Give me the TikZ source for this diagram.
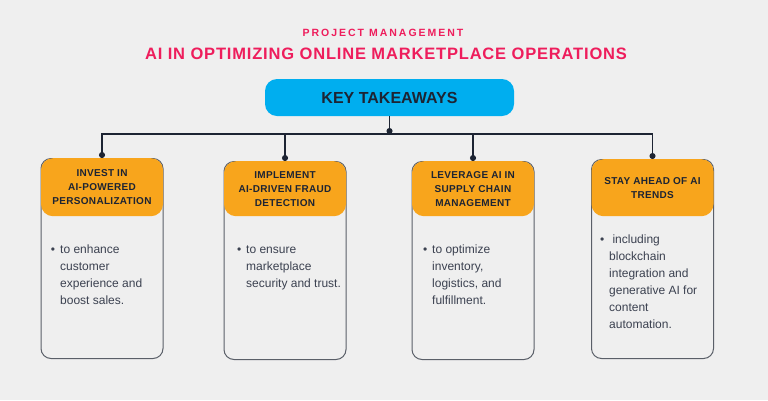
\documentclass[tikz,border=0pt]{standalone}
\usepackage{fontspec}
\setmainfont{Liberation Sans}
\newfontfamily\tagfont[LetterSpace=19]{Liberation Sans}
\newfontfamily\titlefont[LetterSpace=5]{Liberation Sans}
\newfontfamily\headfont[LetterSpace=3]{Liberation Sans}
\usetikzlibrary{arrows.meta,positioning}

\definecolor{bgc}{HTML}{EFEFEF}
\definecolor{pinkred}{HTML}{EE1D5C}
\definecolor{skyblue}{HTML}{00AEEF}
\definecolor{amber}{HTML}{F8A51C}
\definecolor{ink}{HTML}{1D2433}
\definecolor{bodyink}{HTML}{3B4150}
\definecolor{rim}{HTML}{5A5F68}

\newcommand{\firstline}{\rule{0pt}{10pt}}

\begin{document}
\begin{tikzpicture}[x=1pt, y=-1pt,
  card/.style={draw=rim, line width=1pt, fill=bgc, rounded corners=10pt,
               minimum width=122pt, anchor=north},
  hd/.style={fill=amber, rounded corners=12pt, align=center, text=ink,
             minimum width=122pt, inner sep=2pt, anchor=north,
             font=\headfont\fontsize{10}{14}\selectfont\bfseries},
  txt/.style={align=left, inner sep=0pt, anchor=north west, text=bodyink,
              font=\fontsize{12}{17}\selectfont},
  ln/.style={draw=ink, line width=1.5pt, -{Circle[length=6pt]}}]
\fill[bgc] (0,0) rectangle (768,400);
\useasboundingbox (0,0) rectangle (768,400);

% titles
\node[text=pinkred, font=\tagfont\fontsize{10.5}{12}\selectfont\bfseries] (pm) at (383,33) {PROJECT MANAGEMENT};
\node[text=pinkred, font=\titlefont\fontsize{16.5}{18}\selectfont\bfseries] (ttl) at (386,54) {AI IN OPTIMIZING ONLINE MARKETPLACE OPERATIONS};
\node[fill=skyblue, rounded corners=12pt, minimum width=249pt, minimum height=37pt,
      text=ink, font=\fontsize{16}{18}\selectfont\bfseries] (kt) at (389.5,97.5) {KEY TAKEAWAYS};

% cards
\node[card, minimum height=200pt] (c1) at (102,158) {};
\node[card, minimum height=198pt] (c2) at (285,161) {};
\node[card, minimum height=198pt] (c3) at (473,161) {};
\node[card, minimum height=199pt] (c4) at (652.5,159) {};

\node[hd, minimum height=58pt] (h1) at (c1.north) {INVEST IN\\AI-POWERED\\PERSONALIZATION};
\node[hd, minimum height=55pt] (h2) at (c2.north) {IMPLEMENT\\AI-DRIVEN FRAUD\\DETECTION};
\node[hd, minimum height=55pt] (h3) at (c3.north) {LEVERAGE AI IN\\SUPPLY CHAIN\\MANAGEMENT};
\node[hd, minimum height=57pt] (h4) at (c4.north) {STAY AHEAD OF AI\\TRENDS};

\node[txt] (t1) at (60,243) {\firstline\llap{\textbullet\hspace{5pt}}to enhance\\customer\\experience and\\boost sales.};
\node[txt] (t2) at (246,243) {\firstline\llap{\textbullet\hspace{5pt}}to ensure\\marketplace\\security and trust.};
\node[txt] (t3) at (432,243) {\firstline\llap{\textbullet\hspace{5pt}}to optimize\\inventory,\\logistics, and\\fulfillment.};
\node[txt] (t4) at (609,233) {\firstline\llap{\textbullet\hspace{5pt}}\ including\\blockchain\\integration and\\generative AI for\\content\\automation.};

% connectors
\coordinate (j) at (kt.south |- 0,134);
\draw[ln] (kt.south) -- (j);
\draw[ln] (j) -| (h1.north);
\draw[ln] (j) -| (h2.north);
\draw[ln] (j) -| (h3.north);
\draw[ln] (j) -| (h4.north);
\end{tikzpicture}
\end{document}
